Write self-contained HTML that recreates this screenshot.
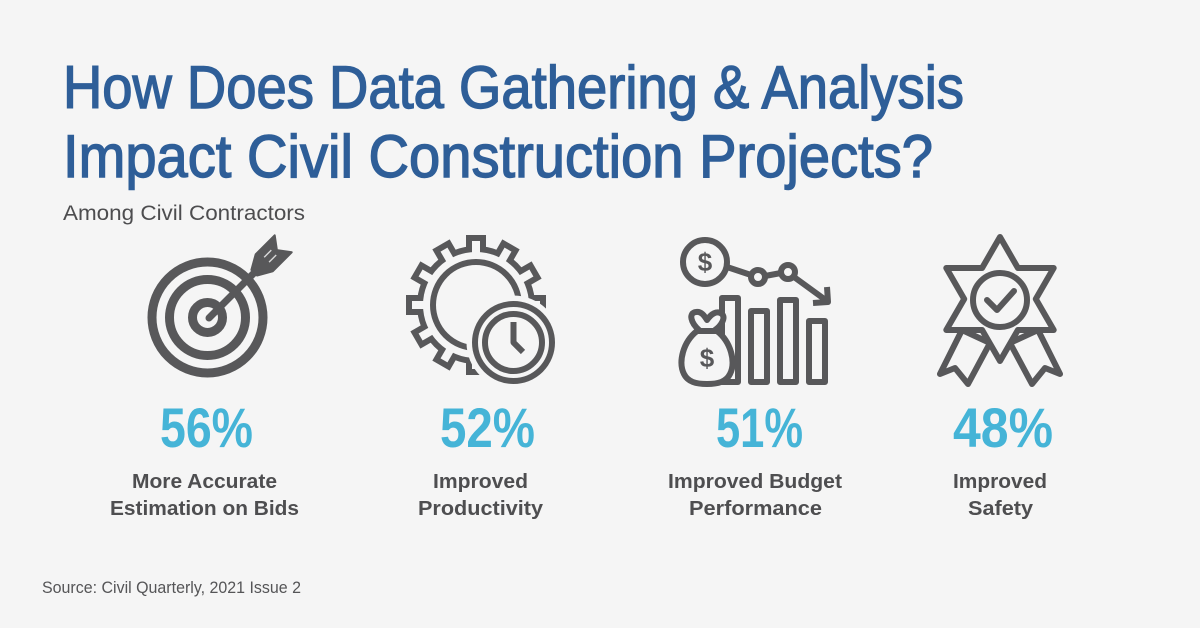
<!DOCTYPE html>
<html>
<head>
<meta charset="utf-8">
<style>
  html, body { margin:0; padding:0; background:#f5f5f5; }
  body { width:1200px; height:628px; overflow:hidden; }
  svg { display:block; }
  .title { font-family:"Liberation Sans", sans-serif; font-size:60px; fill:#2e5e98; stroke:#2e5e98; stroke-width:1.4px; }
  .sub { font-family:"Liberation Sans", sans-serif; font-size:21px; fill:#4d4d4f; }
  .num { font-family:"Liberation Sans", sans-serif; font-size:56px; font-weight:bold; fill:#45b4d7; }
  .lab { font-family:"Liberation Sans", sans-serif; font-size:20px; font-weight:bold; fill:#4e4e50; }
  .src { font-family:"Liberation Sans", sans-serif; font-size:17px; fill:#555557; }
</style>
</head>
<body>
<svg width="1200" height="628" viewBox="0 0 1200 628" xmlns="http://www.w3.org/2000/svg">
  <rect x="0" y="0" width="1200" height="628" fill="#f5f5f5"/>

  <!-- Title -->
  <text class="title" x="63" y="108" textLength="901" lengthAdjust="spacingAndGlyphs">How Does Data Gathering &amp; Analysis</text>
  <text class="title" x="63" y="177" textLength="870" lengthAdjust="spacingAndGlyphs">Impact Civil Construction Projects?</text>
  <text class="sub" x="63" y="220" textLength="242" lengthAdjust="spacingAndGlyphs">Among Civil Contractors</text>

  <!-- Icon 1: target -->
  <g fill="none" stroke="#58585a" stroke-width="9">
    <circle cx="207.5" cy="317.5" r="55.5"/>
    <circle cx="207.5" cy="317.5" r="38"/>
    <circle cx="207.5" cy="317.5" r="15"/>
  </g>
  <line x1="209" y1="318" x2="256" y2="271" stroke="#58585a" stroke-width="7" stroke-linecap="round"/>
  <polygon points="251.4,269.9 255.7,254.3 274.7,235.3 276.9,250.1 291.7,252.3 272.7,271.3 257.1,275.5" fill="#58585a" stroke="#58585a" stroke-width="2" stroke-linejoin="round"/>
  <g stroke="#d9d9da" stroke-width="1.4">
    <line x1="264.2" y1="257.2" x2="271.3" y2="250.1"/>
    <line x1="269.1" y1="262.1" x2="276.2" y2="255.0"/>
  </g>

  <!-- Icon 2: gear + clock -->
  <g transform="translate(476,305)">
    <g fill="#58585a">
      <circle r="59"/>
      <rect x="-10" y="-70" width="20" height="16" transform="rotate(0)"/>
      <rect x="-10" y="-70" width="20" height="16" transform="rotate(30)"/>
      <rect x="-10" y="-70" width="20" height="16" transform="rotate(60)"/>
      <rect x="-10" y="-70" width="20" height="16" transform="rotate(90)"/>
      <rect x="-10" y="-70" width="20" height="16" transform="rotate(120)"/>
      <rect x="-10" y="-70" width="20" height="16" transform="rotate(150)"/>
      <rect x="-10" y="-70" width="20" height="16" transform="rotate(180)"/>
      <rect x="-10" y="-70" width="20" height="16" transform="rotate(210)"/>
      <rect x="-10" y="-70" width="20" height="16" transform="rotate(240)"/>
      <rect x="-10" y="-70" width="20" height="16" transform="rotate(270)"/>
      <rect x="-10" y="-70" width="20" height="16" transform="rotate(300)"/>
      <rect x="-10" y="-70" width="20" height="16" transform="rotate(330)"/>
    </g>
    <g fill="#f5f5f5">
      <circle r="53"/>
      <rect x="-4" y="-64" width="8" height="16" transform="rotate(0)"/>
      <rect x="-4" y="-64" width="8" height="16" transform="rotate(30)"/>
      <rect x="-4" y="-64" width="8" height="16" transform="rotate(60)"/>
      <rect x="-4" y="-64" width="8" height="16" transform="rotate(90)"/>
      <rect x="-4" y="-64" width="8" height="16" transform="rotate(120)"/>
      <rect x="-4" y="-64" width="8" height="16" transform="rotate(150)"/>
      <rect x="-4" y="-64" width="8" height="16" transform="rotate(180)"/>
      <rect x="-4" y="-64" width="8" height="16" transform="rotate(210)"/>
      <rect x="-4" y="-64" width="8" height="16" transform="rotate(240)"/>
      <rect x="-4" y="-64" width="8" height="16" transform="rotate(270)"/>
      <rect x="-4" y="-64" width="8" height="16" transform="rotate(300)"/>
      <rect x="-4" y="-64" width="8" height="16" transform="rotate(330)"/>
    </g>
    <circle r="43" fill="none" stroke="#58585a" stroke-width="6"/>
  </g>
  <circle cx="513.5" cy="342.5" r="47" fill="#f5f5f5"/>
  <circle cx="513.5" cy="342.5" r="38.5" fill="none" stroke="#58585a" stroke-width="6"/>
  <circle cx="513.5" cy="342.5" r="28.5" fill="none" stroke="#58585a" stroke-width="6"/>
  <polyline points="513.5,322 513.5,342.5 523,352" fill="none" stroke="#58585a" stroke-width="6" stroke-linejoin="round"/>

  <!-- Icon 3: budget -->
  <g fill="none" stroke="#58585a" stroke-width="6" stroke-linejoin="round">
    <rect x="722" y="298" width="16" height="84"/>
    <rect x="751" y="311" width="16" height="71"/>
    <rect x="780" y="300" width="16" height="82"/>
    <rect x="809" y="321" width="16" height="61"/>
    <circle cx="705" cy="262" r="22"/>
    <line x1="727" y1="267" x2="751" y2="275"/>
    <circle cx="758" cy="277" r="7"/>
    <line x1="765" y1="276" x2="781" y2="273"/>
    <circle cx="788" cy="272" r="7"/>
    <line x1="794" y1="277" x2="827" y2="301"/>
    <polyline points="827,287 828,302 813,303"/>
  </g>
  <path d="M697,331 C683,342 678,362 684,374 C688,382 696,384 707,384 C718,384 726,382 730,374 C736,362 731,342 717,331 Z" fill="#f5f5f5" stroke="#58585a" stroke-width="6" stroke-linejoin="round"/>
  <path d="M699,330 C691,323 688,313 696,312 C702,311 705,317 707,320 C711,314 717,310 722,314 C726,318 721,326 715,330" fill="#f5f5f5" stroke="#58585a" stroke-width="6" stroke-linejoin="round" stroke-linecap="round"/>
  <line x1="697" y1="331" x2="717" y2="331" stroke="#58585a" stroke-width="6" stroke-linecap="round"/>
  <text x="705" y="271" text-anchor="middle" font-family="Liberation Sans, sans-serif" font-weight="bold" font-size="26" fill="#58585a">$</text>
  <text x="707" y="367" text-anchor="middle" font-family="Liberation Sans, sans-serif" font-weight="bold" font-size="26" fill="#58585a">$</text>

  <!-- Icon 4: award -->
  <g fill="#f5f5f5" stroke="#58585a" stroke-width="6" stroke-linejoin="round">
    <polygon points="962,330 940,374 955,368 968,384 990,343"/>
    <polygon points="1038,330 1060,374 1045,368 1032,384 1010,343"/>
    <path d="M1000,237 L1017.9,268 L1053.7,268 L1035.8,299 L1053.7,330 L1017.9,330 L1000,361 L982.1,330 L946.3,330 L964.2,299 L946.3,268 L982.1,268 Z"/>
    <circle cx="1000" cy="300" r="27"/>
  </g>
  <polyline points="987,300 997,310 1014,291" fill="none" stroke="#58585a" stroke-width="6" stroke-linecap="round" stroke-linejoin="round"/>

  <!-- Numbers -->
  <text class="num" x="160" y="447" textLength="93" lengthAdjust="spacingAndGlyphs">56%</text>
  <text class="num" x="440" y="447" textLength="95" lengthAdjust="spacingAndGlyphs">52%</text>
  <text class="num" x="716" y="447" textLength="87" lengthAdjust="spacingAndGlyphs">51%</text>
  <text class="num" x="953" y="447" textLength="100" lengthAdjust="spacingAndGlyphs">48%</text>

  <!-- Labels -->
  <text class="lab" x="132" y="488" textLength="145" lengthAdjust="spacingAndGlyphs">More Accurate</text>
  <text class="lab" x="110" y="515" textLength="189" lengthAdjust="spacingAndGlyphs">Estimation on Bids</text>
  <text class="lab" x="433" y="488" textLength="95" lengthAdjust="spacingAndGlyphs">Improved</text>
  <text class="lab" x="418" y="515" textLength="125" lengthAdjust="spacingAndGlyphs">Productivity</text>
  <text class="lab" x="668" y="488" textLength="174" lengthAdjust="spacingAndGlyphs">Improved Budget</text>
  <text class="lab" x="689" y="515" textLength="133" lengthAdjust="spacingAndGlyphs">Performance</text>
  <text class="lab" x="953" y="488" textLength="94" lengthAdjust="spacingAndGlyphs">Improved</text>
  <text class="lab" x="968" y="515" textLength="65" lengthAdjust="spacingAndGlyphs">Safety</text>

  <!-- Source -->
  <text class="src" x="42" y="593" textLength="259" lengthAdjust="spacingAndGlyphs">Source: Civil Quarterly, 2021 Issue 2</text>
</svg>
</body>
</html>
